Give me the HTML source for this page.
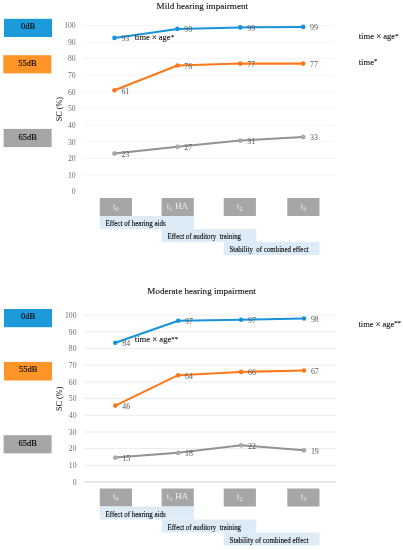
<!DOCTYPE html>
<html><head><meta charset="utf-8"><title>Hearing impairment</title>
<style>
html,body{margin:0;padding:0;background:#fff;}
svg{display:block;font-family:"Liberation Serif","DejaVu Serif",serif;}
.g{stroke:#f4f4f4;stroke-width:1;}
.g2{stroke:#ececec;stroke-width:1;}
.g0{stroke:#dadada;stroke-width:1.3;}
.ax{font-size:7.7px;fill:#6e6e6e;}
.sc{font-size:8.2px;fill:#111;}
.dl{font-size:7.6px;fill:#575757;}
.t9{font-size:9.2px;fill:#111;stroke:#111;stroke-width:0.12;}
.lg{font-size:8.5px;fill:#000;stroke:#000;stroke-width:0.12;}
.xb{font-size:8.1px;fill:#ededed;}
.as{font-size:7px;}
.sub{font-size:5.4px;}
.bar{font-size:7.25px;fill:#000;stroke:#000;stroke-width:0.1;}
.an{font-size:9.1px;fill:#111;stroke:#111;stroke-width:0.1;}
</style></head><body>
<svg width="403" height="550" viewBox="0 0 403 550">
<rect width="403" height="550" fill="#fff"/>
<text x="202.3" y="9.3" text-anchor="middle" textLength="91.5" lengthAdjust="spacingAndGlyphs" class="t9">Mild hearing impairment</text>
<line x1="83.0" x2="335.2" y1="25.40" y2="25.40" class="g"/>
<text x="75.7" y="28.15" text-anchor="end" class="ax">100</text>
<line x1="83.0" x2="335.2" y1="42.03" y2="42.03" class="g"/>
<text x="75.7" y="44.78" text-anchor="end" class="ax">90</text>
<line x1="83.0" x2="335.2" y1="58.66" y2="58.66" class="g"/>
<text x="75.7" y="61.41" text-anchor="end" class="ax">80</text>
<line x1="83.0" x2="335.2" y1="75.29" y2="75.29" class="g"/>
<text x="75.7" y="78.04" text-anchor="end" class="ax">70</text>
<line x1="83.0" x2="335.2" y1="91.92" y2="91.92" class="g"/>
<text x="75.7" y="94.67" text-anchor="end" class="ax">60</text>
<line x1="83.0" x2="335.2" y1="108.55" y2="108.55" class="g"/>
<text x="75.7" y="111.30" text-anchor="end" class="ax">50</text>
<line x1="83.0" x2="335.2" y1="125.18" y2="125.18" class="g"/>
<text x="75.7" y="127.93" text-anchor="end" class="ax">40</text>
<line x1="83.0" x2="335.2" y1="141.81" y2="141.81" class="g"/>
<text x="75.7" y="144.56" text-anchor="end" class="ax">30</text>
<line x1="83.0" x2="335.2" y1="158.44" y2="158.44" class="g"/>
<text x="75.7" y="161.19" text-anchor="end" class="ax">20</text>
<line x1="83.0" x2="335.2" y1="175.07" y2="175.07" class="g"/>
<text x="75.7" y="177.82" text-anchor="end" class="ax">10</text>
<text x="75.7" y="194.45" text-anchor="end" class="ax">0</text>
<text transform="translate(62.2,109.1) rotate(-90)" text-anchor="middle" class="sc">SC (%)</text>
<polyline points="114.5,37.9 177.4,28.9 240.3,27.4 303.2,26.9" fill="none" stroke="#1893d9" stroke-width="2.05" stroke-linejoin="round" stroke-linecap="round"/>
<circle cx="114.5" cy="37.9" r="2.3" fill="#1893d9"/>
<text x="121.4" y="41.3" textLength="7.9" lengthAdjust="spacingAndGlyphs" class="dl">93</text>
<circle cx="177.4" cy="28.9" r="2.3" fill="#1893d9"/>
<text x="184.3" y="32.3" textLength="7.9" lengthAdjust="spacingAndGlyphs" class="dl">98</text>
<circle cx="240.3" cy="27.4" r="2.3" fill="#1893d9"/>
<text x="247.2" y="30.8" textLength="7.9" lengthAdjust="spacingAndGlyphs" class="dl">99</text>
<circle cx="303.2" cy="26.9" r="2.3" fill="#1893d9"/>
<text x="310.1" y="30.3" textLength="7.9" lengthAdjust="spacingAndGlyphs" class="dl">99</text>
<polyline points="114.5,90.3 177.4,65.5 240.3,63.6 303.2,63.6" fill="none" stroke="#fb781b" stroke-width="2.05" stroke-linejoin="round" stroke-linecap="round"/>
<circle cx="114.5" cy="90.3" r="2.3" fill="#fb781b"/>
<text x="121.4" y="93.7" textLength="7.9" lengthAdjust="spacingAndGlyphs" class="dl">61</text>
<circle cx="177.4" cy="65.5" r="2.3" fill="#fb781b"/>
<text x="184.3" y="68.9" textLength="7.9" lengthAdjust="spacingAndGlyphs" class="dl">76</text>
<circle cx="240.3" cy="63.6" r="2.3" fill="#fb781b"/>
<text x="247.2" y="67.0" textLength="7.9" lengthAdjust="spacingAndGlyphs" class="dl">77</text>
<circle cx="303.2" cy="63.6" r="2.3" fill="#fb781b"/>
<text x="310.1" y="67.0" textLength="7.9" lengthAdjust="spacingAndGlyphs" class="dl">77</text>
<polyline points="114.5,153.5 177.4,146.8 240.3,140.6 303.2,137.0" fill="none" stroke="#939393" stroke-width="2.05" stroke-linejoin="round" stroke-linecap="round"/>
<circle cx="114.5" cy="153.5" r="1.9" fill="#b2b2b2" stroke="#8e8e8e" stroke-width="0.7"/>
<text x="121.4" y="156.9" textLength="7.9" lengthAdjust="spacingAndGlyphs" class="dl">23</text>
<circle cx="177.4" cy="146.8" r="1.9" fill="#b2b2b2" stroke="#8e8e8e" stroke-width="0.7"/>
<text x="184.3" y="150.2" textLength="7.9" lengthAdjust="spacingAndGlyphs" class="dl">27</text>
<circle cx="240.3" cy="140.6" r="1.9" fill="#b2b2b2" stroke="#8e8e8e" stroke-width="0.7"/>
<text x="247.2" y="144.0" textLength="7.9" lengthAdjust="spacingAndGlyphs" class="dl">31</text>
<circle cx="303.2" cy="137.0" r="1.9" fill="#b2b2b2" stroke="#8e8e8e" stroke-width="0.7"/>
<text x="310.1" y="140.4" textLength="7.9" lengthAdjust="spacingAndGlyphs" class="dl">33</text>
<rect x="4" y="18.8" width="48" height="18.2" fill="#1c9ad9"/>
<text x="28.2" y="29.15" text-anchor="middle" class="lg">0dB</text>
<rect x="3.3" y="55.2" width="48" height="18.2" fill="#ff9529"/>
<text x="27.5" y="65.75" text-anchor="middle" class="lg">55dB</text>
<rect x="3.6" y="128.9" width="48" height="18.2" fill="#a6a6a6"/>
<text x="27.8" y="139.80" text-anchor="middle" class="lg">65dB</text>
<rect x="99.8" y="198.0" width="32.2" height="18" fill="#a6a6a6"/>
<text transform="translate(115.8,208.9) scale(1.15,1)" text-anchor="middle" class="xb">t<tspan class="sub" dy="2">0</tspan></text>
<rect x="161.6" y="198.0" width="32.2" height="18" fill="#a6a6a6"/>
<text transform="translate(177.6,208.9) scale(1.15,1)" text-anchor="middle" class="xb">t<tspan class="sub" dy="2">1</tspan><tspan dy="-2"> HA</tspan></text>
<rect x="223.7" y="198.0" width="32.2" height="18" fill="#a6a6a6"/>
<text transform="translate(239.7,208.9) scale(1.15,1)" text-anchor="middle" class="xb">t<tspan class="sub" dy="2">2</tspan></text>
<rect x="287.3" y="198.0" width="32.2" height="18" fill="#a6a6a6"/>
<text transform="translate(303.3,208.9) scale(1.15,1)" text-anchor="middle" class="xb">t<tspan class="sub" dy="2">3</tspan></text>
<rect x="99.8" y="216.0" width="94" height="13" fill="#ddebf7"/>
<text x="105.4" y="226.0" textLength="60.4" lengthAdjust="spacingAndGlyphs" class="bar">Effect of hearing aids</text>
<rect x="161.6" y="229.0" width="94.7" height="13" fill="#ddebf7"/>
<text x="167.5" y="239.0" textLength="73.5" lengthAdjust="spacingAndGlyphs" class="bar">Effect of auditory&#160; training</text>
<rect x="223.7" y="242.0" width="95.8" height="13" fill="#ddebf7"/>
<text x="229.5" y="252.0" textLength="78.9" lengthAdjust="spacingAndGlyphs" class="bar">Stability&#160; of combined effect</text>
<text x="134.7" y="40.4" textLength="39.2" lengthAdjust="spacingAndGlyphs" class="an">time × age<tspan class="as" dy="-1.4">*</tspan></text>
<text x="358.7" y="38.9" textLength="39.8" lengthAdjust="spacingAndGlyphs" class="an">time × age<tspan class="as" dy="-1.4">*</tspan></text>
<text x="358.7" y="64.7" textLength="18.6" lengthAdjust="spacingAndGlyphs" class="an">time<tspan class="as" dy="-1.4">*</tspan></text>
<text x="201.6" y="293.9" text-anchor="middle" textLength="108.5" lengthAdjust="spacingAndGlyphs" class="t9">Moderate hearing impairment</text>
<line x1="83.8" x2="336.0" y1="315.15" y2="315.15" class="g2"/>
<text x="76.5" y="317.90" text-anchor="end" class="ax">100</text>
<line x1="83.8" x2="336.0" y1="331.83" y2="331.83" class="g2"/>
<text x="76.5" y="334.58" text-anchor="end" class="ax">90</text>
<line x1="83.8" x2="336.0" y1="348.51" y2="348.51" class="g2"/>
<text x="76.5" y="351.26" text-anchor="end" class="ax">80</text>
<line x1="83.8" x2="336.0" y1="365.19" y2="365.19" class="g2"/>
<text x="76.5" y="367.94" text-anchor="end" class="ax">70</text>
<line x1="83.8" x2="336.0" y1="381.87" y2="381.87" class="g2"/>
<text x="76.5" y="384.62" text-anchor="end" class="ax">60</text>
<line x1="83.8" x2="336.0" y1="398.55" y2="398.55" class="g2"/>
<text x="76.5" y="401.30" text-anchor="end" class="ax">50</text>
<line x1="83.8" x2="336.0" y1="415.23" y2="415.23" class="g2"/>
<text x="76.5" y="417.98" text-anchor="end" class="ax">40</text>
<line x1="83.8" x2="336.0" y1="431.91" y2="431.91" class="g2"/>
<text x="76.5" y="434.66" text-anchor="end" class="ax">30</text>
<line x1="83.8" x2="336.0" y1="448.59" y2="448.59" class="g2"/>
<text x="76.5" y="451.34" text-anchor="end" class="ax">20</text>
<line x1="83.8" x2="336.0" y1="465.27" y2="465.27" class="g2"/>
<text x="76.5" y="468.02" text-anchor="end" class="ax">10</text>
<line x1="83.8" x2="336.0" y1="481.95" y2="481.95" class="g0"/>
<text x="76.5" y="484.70" text-anchor="end" class="ax">0</text>
<text transform="translate(62.4,398.8) rotate(-90)" text-anchor="middle" class="sc">SC (%)</text>
<polyline points="115.3,342.7 178.2,320.7 241.1,319.8 304.0,318.5" fill="none" stroke="#1893d9" stroke-width="2.05" stroke-linejoin="round" stroke-linecap="round"/>
<circle cx="115.3" cy="342.7" r="2.3" fill="#1893d9"/>
<text x="122.2" y="346.1" textLength="7.9" lengthAdjust="spacingAndGlyphs" class="dl">84</text>
<circle cx="178.2" cy="320.7" r="2.3" fill="#1893d9"/>
<text x="185.1" y="324.1" textLength="7.9" lengthAdjust="spacingAndGlyphs" class="dl">97</text>
<circle cx="241.1" cy="319.8" r="2.3" fill="#1893d9"/>
<text x="248.0" y="323.2" textLength="7.9" lengthAdjust="spacingAndGlyphs" class="dl">97</text>
<circle cx="304.0" cy="318.5" r="2.3" fill="#1893d9"/>
<text x="310.9" y="321.9" textLength="7.9" lengthAdjust="spacingAndGlyphs" class="dl">98</text>
<polyline points="115.3,405.6 178.2,375.2 241.1,371.9 304.0,370.5" fill="none" stroke="#fb781b" stroke-width="2.05" stroke-linejoin="round" stroke-linecap="round"/>
<circle cx="115.3" cy="405.6" r="2.3" fill="#fb781b"/>
<text x="122.2" y="409.0" textLength="7.9" lengthAdjust="spacingAndGlyphs" class="dl">46</text>
<circle cx="178.2" cy="375.2" r="2.3" fill="#fb781b"/>
<text x="185.1" y="378.6" textLength="7.9" lengthAdjust="spacingAndGlyphs" class="dl">64</text>
<circle cx="241.1" cy="371.9" r="2.3" fill="#fb781b"/>
<text x="248.0" y="375.3" textLength="7.9" lengthAdjust="spacingAndGlyphs" class="dl">66</text>
<circle cx="304.0" cy="370.5" r="2.3" fill="#fb781b"/>
<text x="310.9" y="373.9" textLength="7.9" lengthAdjust="spacingAndGlyphs" class="dl">67</text>
<polyline points="115.3,457.6 178.2,452.8 241.1,445.3 304.0,450.3" fill="none" stroke="#939393" stroke-width="2.05" stroke-linejoin="round" stroke-linecap="round"/>
<circle cx="115.3" cy="457.6" r="1.9" fill="#b2b2b2" stroke="#8e8e8e" stroke-width="0.7"/>
<text x="122.2" y="461.0" textLength="7.9" lengthAdjust="spacingAndGlyphs" class="dl">15</text>
<circle cx="178.2" cy="452.8" r="1.9" fill="#b2b2b2" stroke="#8e8e8e" stroke-width="0.7"/>
<text x="185.1" y="456.2" textLength="7.9" lengthAdjust="spacingAndGlyphs" class="dl">18</text>
<circle cx="241.1" cy="445.3" r="1.9" fill="#b2b2b2" stroke="#8e8e8e" stroke-width="0.7"/>
<text x="248.0" y="448.7" textLength="7.9" lengthAdjust="spacingAndGlyphs" class="dl">22</text>
<circle cx="304.0" cy="450.3" r="1.9" fill="#b2b2b2" stroke="#8e8e8e" stroke-width="0.7"/>
<text x="310.9" y="453.7" textLength="7.9" lengthAdjust="spacingAndGlyphs" class="dl">19</text>
<rect x="4" y="309" width="48" height="18.2" fill="#1c9ad9"/>
<text x="28.2" y="319.35" text-anchor="middle" class="lg">0dB</text>
<rect x="4" y="361.9" width="48" height="18.6" fill="#ff9529"/>
<text x="28.2" y="372.45" text-anchor="middle" class="lg">55dB</text>
<rect x="3.6" y="435.2" width="48" height="18.2" fill="#a6a6a6"/>
<text x="27.8" y="446.10" text-anchor="middle" class="lg">65dB</text>
<rect x="99.8" y="488.5" width="32.2" height="18" fill="#a6a6a6"/>
<text transform="translate(115.8,499.4) scale(1.15,1)" text-anchor="middle" class="xb">t<tspan class="sub" dy="2">0</tspan></text>
<rect x="161.6" y="488.5" width="32.2" height="18" fill="#a6a6a6"/>
<text transform="translate(177.6,499.4) scale(1.15,1)" text-anchor="middle" class="xb">t<tspan class="sub" dy="2">1</tspan><tspan dy="-2"> HA</tspan></text>
<rect x="223.7" y="488.5" width="32.2" height="18" fill="#a6a6a6"/>
<text transform="translate(239.7,499.4) scale(1.15,1)" text-anchor="middle" class="xb">t<tspan class="sub" dy="2">2</tspan></text>
<rect x="287.3" y="488.5" width="32.2" height="18" fill="#a6a6a6"/>
<text transform="translate(303.3,499.4) scale(1.15,1)" text-anchor="middle" class="xb">t<tspan class="sub" dy="2">3</tspan></text>
<rect x="99.8" y="506.5" width="94" height="13" fill="#ddebf7"/>
<text x="105.4" y="516.5" textLength="60.4" lengthAdjust="spacingAndGlyphs" class="bar">Effect of hearing aids</text>
<rect x="161.6" y="519.5" width="94.7" height="13" fill="#ddebf7"/>
<text x="167.5" y="529.5" textLength="73.5" lengthAdjust="spacingAndGlyphs" class="bar">Effect of auditory&#160; training</text>
<rect x="223.7" y="532.5" width="95.8" height="13" fill="#ddebf7"/>
<text x="229.5" y="542.5" textLength="78.9" lengthAdjust="spacingAndGlyphs" class="bar">Stability of combined effect</text>
<text x="134.8" y="342.2" textLength="43.2" lengthAdjust="spacingAndGlyphs" class="an">time × age<tspan class="as" dy="-1.4">**</tspan></text>
<text x="358.5" y="326.5" textLength="42.4" lengthAdjust="spacingAndGlyphs" class="an">time × age<tspan class="as" dy="-1.4">**</tspan></text>
</svg>
</body></html>
